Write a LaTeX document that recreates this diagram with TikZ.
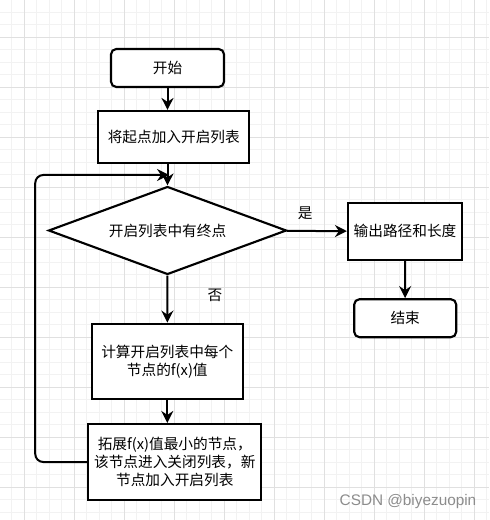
\documentclass[tikz,border=0pt]{standalone}
\usepackage{fontspec}
\setmainfont{Noto Sans CJK SC}
\newfontfamily\marksans{Liberation Sans}
\usepackage{tikz}
\usetikzlibrary{arrows.meta,shapes.geometric}

\begin{document}
\begin{tikzpicture}[x=0.75pt, y=-0.75pt, auto, font=\fontsize{11}{13.5}\selectfont]
		\tikzstyle{grid_minor} = [draw=black!5, line width=0.5pt]
		\tikzstyle{grid_major} = [draw=black!12, line width=0.6pt]
		\tikzstyle{term_item} = [rounded corners=4pt, rectangle, fill=white,
		inner sep=2pt, draw, line width=1.6pt, text centered]
		\tikzstyle{proc_item} = [rectangle, fill=white, inner sep=2pt, draw,
		line width=1.6pt, align=center]
		\tikzstyle{test_item} = [diamond, aspect=2.7, fill=white, inner sep=0pt,
		draw, line width=1.6pt, text centered]
		\tikzstyle{flow_line} = [->, line width=1.5pt,
		>={Stealth[length=9pt,width=9pt,inset=3pt]}]
		\fill[white] (0,0) rectangle (489,520);
		\useasboundingbox (0,0) rectangle (489,520);
		\foreach \gx in {-0.7,11.8,...,489} \draw[grid_minor] (\gx,0) -- (\gx,520);
		\foreach \gy in {-0.2,12.3,...,520} \draw[grid_minor] (0,\gy) -- (489,\gy);
		\foreach \gx in {24.3,74.3,...,489} \draw[grid_major] (\gx,0) -- (\gx,520);
		\foreach \gy in {37.3,87.3,...,520} \draw[grid_major] (0,\gy) -- (489,\gy);
		\node[term_item, minimum width=84.75pt, minimum height=28.5pt] (start) at (167.5, 68) {开始};
		\node[proc_item, minimum width=113.25pt, minimum height=39pt] (init) at (173.8, 137) {将起点加入开启列表};
		\node[test_item, minimum width=178.5pt, minimum height=66pt] (check) at (167.5, 230.5) {开启列表中有终点};
		\node[proc_item, minimum width=85.5pt, minimum height=42.75pt] (output) at (405, 231.3) {输出路径和长度};
		\node[term_item, minimum width=76.5pt, minimum height=28.5pt] (finish) at (405.2, 318.2) {结束};
		\node[proc_item, minimum width=113pt, minimum height=56.7pt] (calc) at (167.3, 361.5) {计算开启列表中每个\\节点的f(x)值};
		\node[proc_item, minimum width=129.75pt, minimum height=57pt] (expand) at (174.8, 462) {拓展f(x)值最小的节点，\\该节点进入关闭列表，新\\节点加入开启列表};
		\coordinate (loop_in) at (169, 175);
		\path[flow_line] 
		(start.south) edge (start.south |- init.north)
		(check.north |- init.south) edge (check.north)
		(check) edge node[pos=.31, above=4.5pt]{是} (output)
		(output) edge (finish)
		(check) edge node[pos=.42, right=26pt]{否} (calc)
		(calc.south) edge (calc.south |- expand.north);
		\draw[flow_line, rounded corners=6pt] (expand.west) -- ++(-52,0) |- (loop_in);
		\node[text=black!45, font=\marksans\fontsize{11.5}{13}\selectfont] (mark) at (408, 502) {CSDN @biyezuopin};
	\end{tikzpicture}
\end{document}
